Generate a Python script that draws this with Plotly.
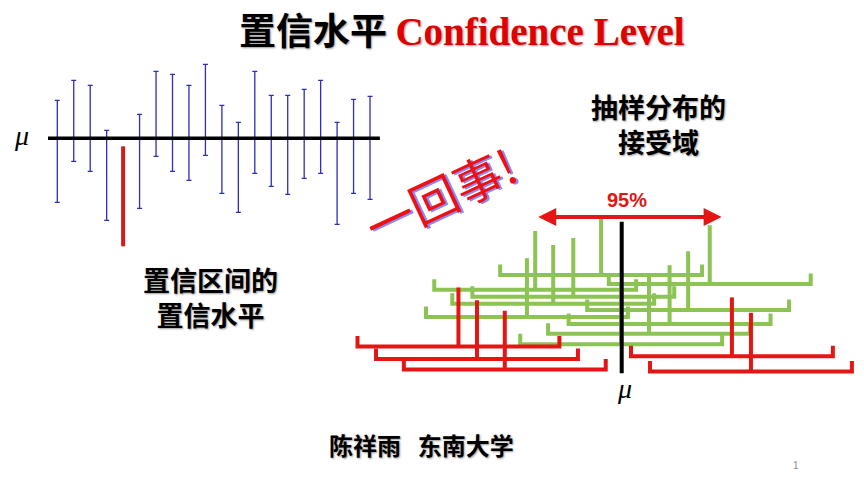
import plotly.graph_objects as go

# left panel: 20 interval estimates around mu (= 0)
left_idx = list(range(1, 21))
left_upper = [3.8, 5.8, 5.3, 0.8, -0.8, 2.4, 6.7, 6.4, 5.3, 7.4,
              3.3, 1.6, 6.7, 4.3, 4.3, 4.9, 5.8, 1.6, 3.9, 4.2]
left_lower = [-6.4, -2.3, -3.3, -8.2, -10.8, -7.0, -1.8, -3.3, -4.2, -1.7,
              -5.5, -7.4, -3.5, -4.8, -5.6, -4.0, -3.5, -8.6, -5.5, -6.1]

# right panel: sample means (centre of each interval) and their row
half_width = 1.96
right_center = [-0.40, 1.71, -1.68, -0.94, -1.33, 1.29, -1.84, 0.93, 0.53, -0.01,
                -3.17, 2.14, -2.81, -2.27, 2.51]
right_row = [15.0, 13.7, 12.9, 11.9, 10.9, 10.0, 9.0, 8.0, 6.6, 5.1,
             4.8, 3.4, 3.0, 1.5, 1.2]
stem_h = 8.4
tick_h = 1.5
accept_lo, accept_hi = -1.65, 1.94

BLUE = "#2e2eb8"
GREEN = "#8cc453"
RED = "#e41515"
CJK = "Noto Sans CJK SC"


def px(x):
    return x / 864


def py(y):
    return 1 - y / 486


def label(text, x, y, font, **kw):
    fig.add_annotation(x=px(x), y=py(y), xref="paper", yref="paper",
                       xanchor="center", yanchor="middle", showarrow=False,
                       text=text, font=font, **kw)


fig = go.Figure()

# ---- left panel
hit = [i for i in range(len(left_idx)) if left_lower[i] <= 0 <= left_upper[i]]
miss = [i for i in range(len(left_idx)) if i not in hit]

fig.add_trace(go.Scatter(
    x=[left_idx[i] for i in hit], y=[0] * len(hit),
    mode="markers", marker=dict(size=1, color="rgba(0,0,0,0)"),
    error_y=dict(type="data", symmetric=False,
                 array=[left_upper[i] for i in hit],
                 arrayminus=[-left_lower[i] for i in hit],
                 color=BLUE, thickness=1.3, width=2.5),
    xaxis="x", yaxis="y", hoverinfo="skip"))

mx, my = [], []
for i in miss:
    mx += [left_idx[i], left_idx[i], None]
    my += [left_lower[i], left_upper[i], None]
fig.add_trace(go.Scatter(x=mx, y=my, mode="lines",
                         line=dict(color="#d41c1c", width=4),
                         xaxis="x", yaxis="y", hoverinfo="skip"))

fig.add_trace(go.Scatter(x=[0.43, 20.6], y=[0, 0], mode="lines",
                         line=dict(color="black", width=3.5),
                         xaxis="x", yaxis="y", hoverinfo="skip"))

# ---- right panel
for want_hit, color in [(True, GREEN), (False, RED)]:
    xs, ys = [], []
    for c, r in zip(right_center, right_row):
        if (abs(c) <= half_width) != want_hit:
            continue
        lo, hi = c - half_width, c + half_width
        xs += [lo, lo, hi, hi, None, c, c, None]
        ys += [r + tick_h, r, r, r + tick_h, None, r, r + stem_h, None]
    fig.add_trace(go.Scatter(x=xs, y=ys, mode="lines",
                             line=dict(color=color, width=4),
                             xaxis="x2", yaxis="y2", hoverinfo="skip"))

fig.add_trace(go.Scatter(x=[0, 0], y=[0.96, 22.6], mode="lines",
                         line=dict(color="black", width=4),
                         xaxis="x2", yaxis="y2", hoverinfo="skip"))

fig.add_annotation(x=accept_hi, y=23.3, ax=accept_lo, ay=23.3,
                   xref="x2", yref="y2", axref="x2", ayref="y2",
                   showarrow=True, arrowhead=2, arrowside="end+start",
                   arrowsize=0.9, arrowwidth=4, arrowcolor=RED,
                   standoff=0, startstandoff=0, text="")

# ---- texts
shadow = "1px 1px 2px #9a9a9a"
label("置信水平 <span style=\"font-family:'Liberation Serif';color:#e00000;font-size:39px\">"
      "Confidence Level</span>", 462, 29,
      dict(family=CJK, size=37, color="black", weight="bold", shadow=shadow))

label("抽样分布的<br>接受域", 658, 124,
      dict(family=CJK, size=27, color="black", weight="bold", shadow=shadow), align="center")

label("置信区间的<br>置信水平", 210, 297,
      dict(family=CJK, size=27, color="black", weight="bold", shadow=shadow), align="center")

label("一回事!", 440, 194,
      dict(family=CJK, size=48, color="#ee1111", shadow="2px 2px 0px #8a8aff"), textangle=-25)

label("95%", 627, 200, dict(family="Liberation Sans", size=20, color=RED, weight="bold"))

label("<i>μ</i>", 21, 135, dict(family="Liberation Serif", size=28, color="black"))
label("<i>μ</i>", 624, 388, dict(family="Liberation Serif", size=28, color="black"))

label("陈祥雨\u2002\u2009东南大学", 421, 444,
      dict(family=CJK, size=24, color="black", weight="bold", shadow=shadow))

label("1", 796, 465, dict(family="Liberation Sans", size=10, color="#8c8c8c"))

hidden = dict(visible=False, showgrid=False, zeroline=False, fixedrange=True)
fig.update_layout(
    width=864, height=486,
    margin=dict(l=0, r=0, t=0, b=0),
    paper_bgcolor="white", plot_bgcolor="rgba(0,0,0,0)",
    showlegend=False,
    xaxis=dict(domain=[0.05544, 0.43970], range=[0.43, 20.6], **hidden),
    yaxis=dict(domain=[0.48560, 0.87654], range=[-11.17, 7.83], **hidden),
    xaxis2=dict(domain=[0.39769, 0.99375], range=[-5.4, 4.6], anchor="y2", **hidden),
    yaxis2=dict(domain=[0.17490, 0.57819], range=[-3, 25], anchor="x2", **hidden),
)

fig.write_html("out.html", config={"displayModeBar": False},
               post_script="document.body.style.margin='0';")
